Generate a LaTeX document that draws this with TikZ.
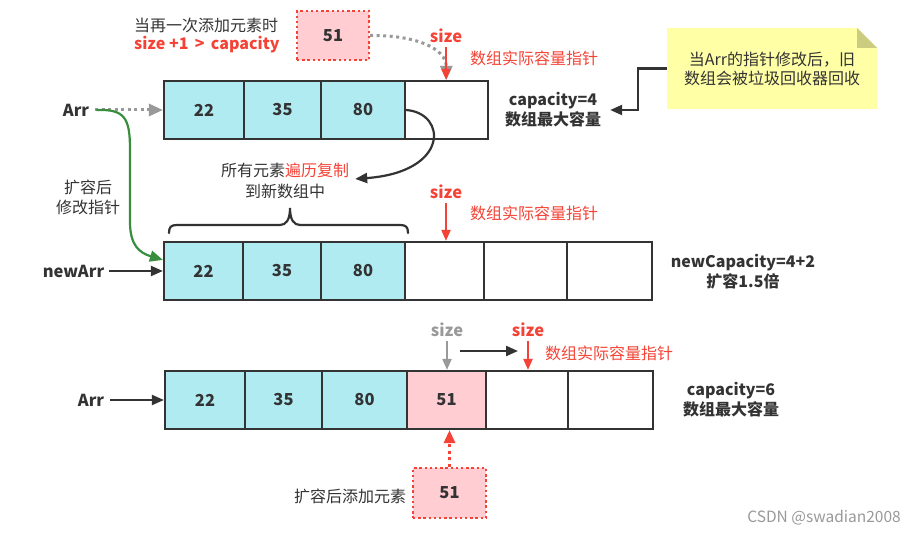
\documentclass[tikz,border=0pt]{standalone}
\usepackage{fontspec}
\setmainfont{Noto Sans CJK SC}
\usetikzlibrary{arrows.meta}
\definecolor{cyanfill}{RGB}{177,235,242}
\definecolor{pinkfill}{RGB}{255,205,210}
\definecolor{redc}{RGB}{244,67,54}
\definecolor{dark}{RGB}{51,51,51}
\definecolor{grayc}{RGB}{153,153,153}
\definecolor{greenc}{RGB}{56,142,60}
\definecolor{notefill}{RGB}{255,255,166}
\definecolor{notefold}{RGB}{204,204,128}
\begin{document}
\begin{tikzpicture}[x=1pt,y=-1pt,
  font=\fontsize{16}{19}\selectfont,
  cellbox/.style={draw=dark, line width=2.2pt, minimum height=58pt, inner sep=0pt,
    font=\fontsize{16.5}{19}\selectfont\bfseries, text=dark},
  lbl/.style={font=\fontsize{16.5}{19}\selectfont\bfseries, text=dark, inner sep=1pt},
  boldlbl/.style={font=\fontsize{16}{20}\selectfont\bfseries, text=dark, align=center, inner sep=1pt},
  plain/.style={text=dark, inner sep=1pt},
  redtxt/.style={text=redc, inner sep=1pt},
  sizered/.style={font=\fontsize{16.5}{19}\selectfont\bfseries, text=redc, inner sep=1pt},
  sizegray/.style={font=\fontsize{16.5}{19}\selectfont\bfseries, text=grayc, inner sep=1pt},
  dotbox/.style={draw=redc, fill=pinkfill, line width=2.4pt, dash pattern=on 2.4pt off 2.8pt,
    minimum width=72pt, minimum height=49pt, inner sep=0pt,
    font=\fontsize{16.5}{19}\selectfont\bfseries, text=dark},
  blackarrow/.style={draw=dark, line width=2.2pt, -{Triangle[length=12pt,width=10pt]}},
  redarrow/.style={draw=redc, line width=2pt, -{Triangle[length=11pt,width=9pt]}},
  grayarrow/.style={draw=grayc, line width=2pt, -{Triangle[length=11pt,width=9pt]}},
  graydot/.style={draw=grayc, line width=3pt, dash pattern=on 3pt off 3.5pt,
    -{Triangle[length=14pt,width=12pt]}},
  reddot/.style={draw=redc, line width=3pt, dash pattern=on 3pt off 3.5pt,
    -{Triangle[length=13pt,width=11pt]}},
  greenline/.style={draw=greenc, line width=2.2pt, -{Triangle[length=13pt,width=11pt]}}
]
\useasboundingbox (0,0) rectangle (920,534);

% ---------- row 1 ----------
\node[cellbox,fill=cyanfill,minimum width=80pt] (a1) at (204,110) {22};
\node[cellbox,fill=cyanfill,minimum width=77pt] (a2) at (282.5,110) {35};
\node[cellbox,fill=cyanfill,minimum width=84pt] (a3) at (363,110) {80};
\node[cellbox,minimum width=83pt] (a4) at (446.5,110) {};

% ---------- row 2 ----------
\node[cellbox,fill=cyanfill,minimum width=79pt] (b1) at (203.5,271) {22};
\node[cellbox,fill=cyanfill,minimum width=78pt] (b2) at (282,271) {35};
\node[cellbox,fill=cyanfill,minimum width=84pt] (b3) at (363,271) {80};
\node[cellbox,minimum width=79pt] (b4) at (444.5,271) {};
\node[cellbox,minimum width=83pt] (b5) at (525.5,271) {};
\node[cellbox,minimum width=85pt] (b6) at (609.5,271) {};

% ---------- row 3 ----------
\node[cellbox,fill=cyanfill,minimum width=80pt] (c1) at (205,400) {22};
\node[cellbox,fill=cyanfill,minimum width=77pt] (c2) at (283.5,400) {35};
\node[cellbox,fill=cyanfill,minimum width=85pt] (c3) at (364.5,400) {80};
\node[cellbox,fill=pinkfill,minimum width=79pt] (c4) at (446.5,400) {51};
\node[cellbox,minimum width=82pt] (c5) at (527,400) {};
\node[cellbox,minimum width=85pt] (c6) at (610.5,400) {};

% ---------- left labels ----------
\node[lbl] (arr1) at (76,110) {Arr};
\node[lbl] (newarr) at (73.5,271) {newArr};
\node[lbl] (arr3) at (91,400) {Arr};
\node[plain, align=center, font=\fontsize{16}{20}\selectfont] (mod) at (88,197) {扩容后\\修改指针};

\draw[graydot, shorten <=5pt] (arr1.east) -- (a1.west);
\draw[greenline] ([xshift=6pt]arr1.east) .. controls (125,109) and (130,118) .. (130,150)
   -- (130,222) .. controls (130,246) and (140,253) .. ([yshift=-19pt]b1.north west);
\draw[blackarrow, shorten <=4pt] (newarr.east) -- (b1.west);
\draw[blackarrow, shorten <=5pt] (arr3.east) -- (c1.west);

% ---------- top ----------
\node[plain, align=left, anchor=west, font=\fontsize{16}{18}\selectfont] (cond) at (133,36)
  {当再一次添加元素时\\{\bfseries\color{redc}size +1 \,>\, capacity}};
\node[dotbox] (n51a) at (333,35.5) {51};
\node[sizered] (s1) at (446,36) {size};
\node[redtxt] (p1) at (534,58) {数组实际容量指针};
\draw[graydot] (n51a.east) .. controls (415,35) and (446,48) .. (a4.north);
\draw[redarrow, shorten <=3pt] (s1.south) -- (s1.south |- a4.north);

\node[boldlbl] (cap1) at (553,110) {capacity=4\\数组最大容量};

% note
\fill[notefill] (667,28) -- (857,28) -- (877,48) -- (877,109) -- (667,109) -- cycle;
\fill[notefold] (857,28) -- (877,48) -- (857,48) -- cycle;
\node[plain, align=center, minimum width=210pt, minimum height=81pt, inner sep=0pt,
  font=\fontsize{16}{19}\selectfont] (note) at (772,68.5)
  {当Arr的指针修改后，旧\\数组会被垃圾回收器回收};
\draw[blackarrow] (note.west) -- ++(-29,0) |- ([xshift=8pt]cap1.east);

% copy curve and brace
\node[plain, align=center, font=\fontsize{16}{21}\selectfont] (copy) at (285,181)
  {所有元素{\color{redc}遍历复制}\\到新数组中};
\draw[blackarrow, shorten >=1pt] (a3.east) .. controls (447,113) and (450,172) .. ([xshift=4pt,yshift=2pt]copy.east);
\draw[dark, line width=2.2pt, line cap=round]
  (169,233) .. controls (169,227) and (171,225) .. (177,225) -- (280,225)
  .. controls (286,225) and (290,220) .. (290,208)
  .. controls (290,220) and (294,225) .. (300,225) -- (400,225)
  .. controls (406,225) and (408,227) .. (408,233);

% ---------- row 2 annotations ----------
\node[sizered] (s2) at (446,192) {size};
\node[redtxt] (p2) at (534,213) {数组实际容量指针};
\draw[redarrow, shorten <=3pt] (s2.south) -- (s2.south |- b4.north);
\node[boldlbl] (cap2) at (743,272) {newCapacity=4+2\\扩容1.5倍};

% ---------- row 3 annotations ----------
\node[sizegray] (s3g) at (447,330) {size};
\node[sizered] (s3r) at (528,330) {size};
\node[redtxt] (p3) at (609,353) {数组实际容量指针};
\draw[grayarrow, shorten <=3pt] (s3g.south) -- (s3g.south |- c4.north);
\draw[redarrow, shorten <=3pt] (s3r.south) -- (s3r.south |- c5.north);
\coordinate (m1) at (460,351);
\coordinate (m2) at (518,351);
\draw[blackarrow] (m1) -- (m2);
\node[boldlbl] (cap3) at (731,400) {capacity=6\\数组最大容量};

\node[dotbox, minimum width=73pt, minimum height=50pt] (n51b) at (449.5,493) {51};
\draw[reddot] (n51b.north) -- (n51b.north |- c4.south);
\node[plain] (addt) at (350,496) {扩容后添加元素};

\node[text=grayc, font=\fontsize{15.5}{17}\selectfont] (wm) at (824,518) {CSDN @swadian2008};
\end{tikzpicture}
\end{document}
